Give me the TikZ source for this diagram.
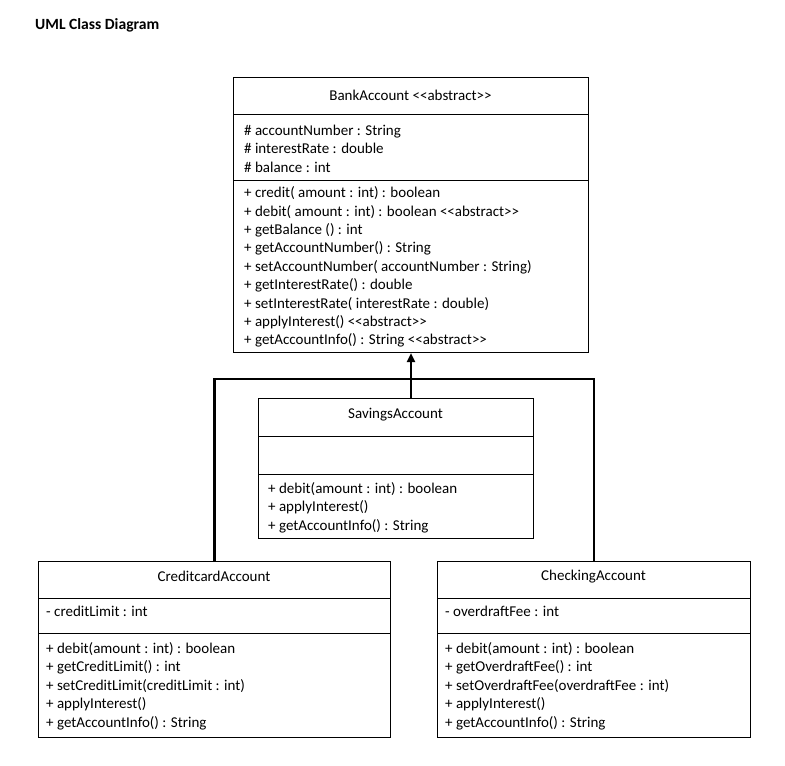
\documentclass[tikz,border=0pt]{standalone}
\usepackage{fontspec}
\setmainfont{Carlito}
\usetikzlibrary{arrows.meta}
\begin{document}
\begin{tikzpicture}[x=1pt,y=-1pt,
  box/.style={draw=black,line width=1pt,minimum width=#1,inner sep=0pt,anchor=north west},
  txt/.style={inner sep=0pt,anchor=west,align=left,font=\fontsize{15}{18.4}\selectfont},
  ttl/.style={inner sep=0pt,font=\fontsize{15}{18.4}\selectfont},
  conn/.style={line width=2.6pt},
  sep/.style={line width=1pt}]
\useasboundingbox (0,0) rectangle (785,766);
\node[inner sep=0pt,anchor=west,font=\bfseries\fontsize{15.6}{18}\selectfont] (title) at (35,25) {UML Class Diagram};
% BankAccount
\node[box=355pt,minimum height=275pt] (ba) at (233,77) {};
\draw[sep] (233,114) -- (588,114);
\draw[sep] (233,180) -- (588,180);
\node[ttl] (ban) at (410.5,95) {BankAccount <{}<abstract>{}>};
\node[txt] (baa) at (244,148.5) {\# accountNumber : String\\\# interestRate : double\\\# balance : int};
\node[txt] (bam) at (244,267) {+ credit( amount : int) : boolean\\+ debit( amount : int) : boolean <{}<abstract>{}>\\+ getBalance () : int\\+ getAccountNumber() : String\\+ setAccountNumber( accountNumber : String)\\+ getInterestRate() : double\\+ setInterestRate( interestRate : double)\\+ applyInterest() <{}<abstract>{}>\\+ getAccountInfo() : String <{}<abstract>{}>};
% Savings
\node[box=275pt,minimum height=140pt] (sa) at (258,398) {};
\draw[sep] (258,436) -- (533,436);
\draw[sep] (258,474) -- (533,474);
\node[ttl] (san) at (395.5,415) {SavingsAccount};
\node[txt] (sam) at (268,507.5) {+ debit(amount : int) : boolean\\+ applyInterest()\\+ getAccountInfo() : String};
% Creditcard
\node[box=352pt,minimum height=176pt] (cc) at (38,561) {};
\draw[sep] (38,598) -- (390,598);
\draw[sep] (38,633) -- (390,633);
\node[ttl] (ccn) at (214,576.5) {CreditcardAccount};
\node[txt] (cca) at (46,611.5) {- creditLimit : int};
\node[txt] (ccm) at (46,686) {+ debit(amount : int) : boolean\\+ getCreditLimit() : int\\+ setCreditLimit(creditLimit : int)\\+ applyInterest()\\+ getAccountInfo() : String};
% Checking
\node[box=313pt,minimum height=176pt] (ck) at (437,561) {};
\draw[sep] (437,598) -- (750,598);
\draw[sep] (437,633) -- (750,633);
\node[ttl] (ckn) at (593.5,576.5) {CheckingAccount};
\node[txt] (cka) at (445,611.5) {- overdraftFee : int};
\node[txt] (ckm) at (445,686) {+ debit(amount : int) : boolean\\+ getOverdraftFee() : int\\+ setOverdraftFee(overdraftFee : int)\\+ applyInterest()\\+ getAccountInfo() : String};
% connectors
\coordinate (bar) at (0,379);
\draw[conn] (cc.north) |- (bar -| ck.north) -- (ck.north);
\draw[conn,-{Triangle[length=9pt,width=8pt]}] (sa.north -| ba.south) -- (ba.south);
\end{tikzpicture}
\end{document}
